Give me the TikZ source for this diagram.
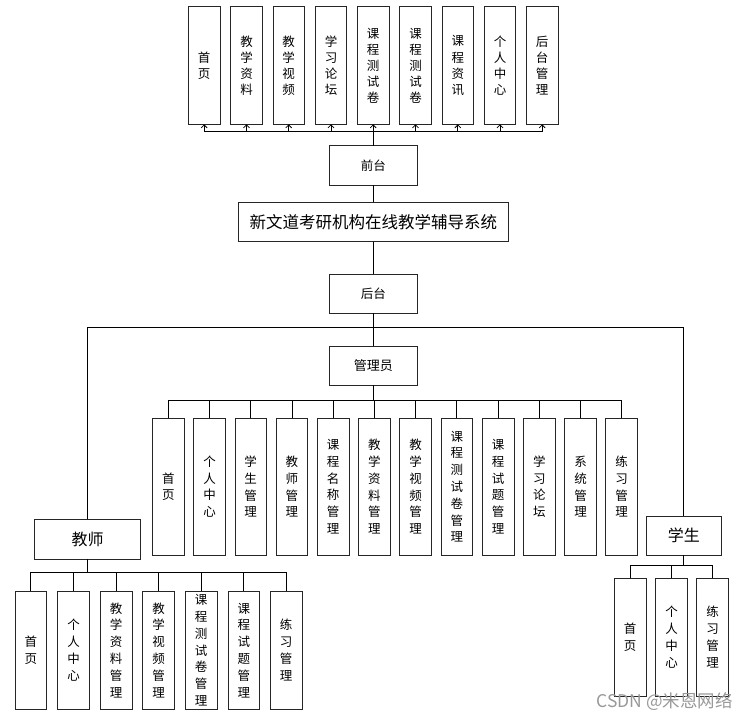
\documentclass[tikz,border=0pt]{standalone}
\usepackage{fontspec}
\newfontfamily\cjk{Noto Sans CJK SC}
\usetikzlibrary{arrows.meta}
\begin{document}
\begin{tikzpicture}[x=1pt,y=-1pt,
  box/.style={draw=black!85,line width=0.8pt,fill=white,inner sep=0pt,outer sep=0pt,align=center},
  vbox/.style={box,minimum width=31.6pt,font=\cjk\fontsize{12.5}{16.8}\selectfont},
  topbox/.style={vbox,minimum height=117.5pt,font=\cjk\fontsize{12.5}{16.1}\selectfont},
  admbox/.style={vbox,minimum height=136.7pt},
  tchbox/.style={vbox,minimum height=118.3pt},
  stubox/.style={vbox,minimum height=118pt},
  midbox/.style={box,minimum width=88pt,minimum height=39.3pt,font=\cjk\fontsize{12.5}{15}\selectfont},
  rolebox/.style={box,minimum height=39.5pt,font=\cjk\fontsize{16}{18}\selectfont},
  ln/.style={draw=black,line width=0.8pt},
  arr/.style={ln,-{Straight Barb[length=3pt,width=6pt]}}
]
\useasboundingbox (0,0) rectangle (749,720);

% top level
\node[topbox] (t1) at (204.2,65.6) {首\\页};
\node[topbox] (t2) at (246.5,65.6) {教\\学\\资\\料};
\node[topbox] (t3) at (288.7,65.6) {教\\学\\视\\频};
\node[topbox] (t4) at (331.0,65.6) {学\\习\\论\\坛};
\node[topbox] (t5) at (373.2,65.6) {课\\程\\测\\试\\卷};
\node[topbox] (t6) at (415.5,65.6) {课\\程\\测\\试\\卷};
\node[topbox] (t7) at (457.8,65.6) {课\\程\\资\\讯};
\node[topbox] (t8) at (500.0,65.6) {个\\人\\中\\心};
\node[topbox] (t9) at (542.2,65.6) {后\\台\\管\\理};

\node[midbox] (qt) at (373.3,165.5) {前台};
\node[box,minimum width=270pt,minimum height=39.4pt,font=\cjk\fontsize{16.5}{18}\selectfont] (title) at (373.3,222) {新文道考研机构在线教学辅导系统};
\node[midbox] (ht) at (373.3,293.7) {后台};
\node[midbox,font=\cjk\fontsize{13}{15}\selectfont] (gly) at (373.3,365.7) {管理员};

\coordinate (tb) at (373.3,131.5);
\draw[ln] (qt.north) -- (tb);
\foreach \i in {1,...,9} \draw[arr] (tb) -| (t\i.south);
\draw[ln] (title.north) -- (qt.south);
\draw[ln] (title.south) -- (ht.north);
\draw[ln] (ht.south) -- (gly.north);

% admin
\node[admbox] (a1) at (168.3,486.7) {首\\页};
\node[admbox] (a2) at (209.5,486.7) {个\\人\\中\\心};
\node[admbox] (a3) at (250.7,486.7) {学\\生\\管\\理};
\node[admbox] (a4) at (291.9,486.7) {教\\师\\管\\理};
\node[admbox] (a5) at (333.1,486.7) {课\\程\\名\\称\\管\\理};
\node[admbox] (a6) at (374.3,486.7) {教\\学\\资\\料\\管\\理};
\node[admbox] (a7) at (415.5,486.7) {教\\学\\视\\频\\管\\理};
\node[admbox] (a8) at (456.8,486.7) {课\\程\\测\\试\\卷\\管\\理};
\node[admbox] (a9) at (498.1,486.7) {课\\程\\试\\题\\管\\理};
\node[admbox] (a10) at (539.3,486.7) {学\\习\\论\\坛};
\node[admbox] (a11) at (580.5,486.7) {系\\统\\管\\理};
\node[admbox] (a12) at (621.6,486.7) {练\\习\\管\\理};
\coordinate (ab) at (373.3,400);
\draw[ln] (gly.south) -- (ab);
\foreach \i in {1,...,12} \draw[ln] (ab) -| (a\i.north);

% roles
\node[rolebox,minimum width=106pt] (js) at (87.7,539.2) {教师};
\node[rolebox,minimum width=74.3pt] (xs) at (683.8,535.7) {学生};
\coordinate (hl) at (373.3,327.7);
\draw[ln] (js.north) |- (hl) -| (xs.north);

% teacher children
\node[tchbox] (j1) at (30.8,650.2) {首\\页};
\node[tchbox] (j2) at (73.5,650.2) {个\\人\\中\\心};
\node[tchbox] (j3) at (116.2,650.2) {教\\学\\资\\料\\管\\理};
\node[tchbox] (j4) at (158.6,650.2) {教\\学\\视\\频\\管\\理};
\node[tchbox] (j5) at (201.2,650.2) {课\\程\\测\\试\\卷\\管\\理};
\node[tchbox] (j6) at (243.8,650.2) {课\\程\\试\\题\\管\\理};
\node[tchbox] (j7) at (286.2,650.2) {练\\习\\管\\理};
\coordinate (jb) at (87.7,572.7);
\draw[ln] (js.south) -- (jb);
\foreach \i in {1,...,7} \draw[ln] (jb) -| (j\i.north);

% student children
\node[stubox] (s1) at (630.2,637) {首\\页};
\node[stubox] (s2) at (671.5,637) {个\\人\\中\\心};
\node[stubox] (s3) at (712.5,637) {练\\习\\管\\理};
\coordinate (sb) at (683.8,565.7);
\draw[ln] (xs.south) -- (sb);
\foreach \i in {1,...,3} \draw[ln] (sb) -| (s\i.north);

% watermark
\node[font=\cjk\fontsize{17.5}{19}\selectfont,text=black!40,inner sep=0pt] (wm) at (664.7,701.5) {CSDN @米恩网络};
\end{tikzpicture}
\end{document}
